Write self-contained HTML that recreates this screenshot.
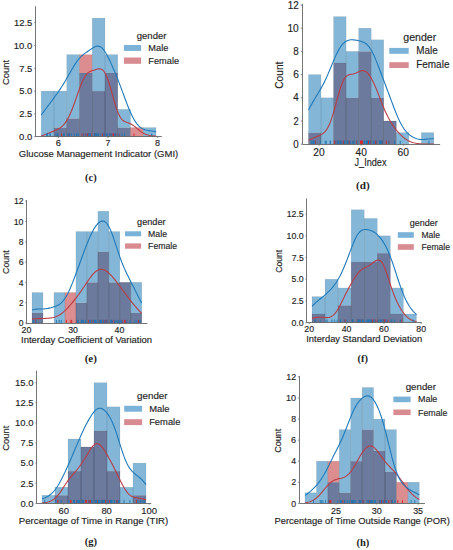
<!DOCTYPE html>
<html><head><meta charset="utf-8"><style>
html,body{margin:0;padding:0;background:#fff;}
svg{display:block;}
text{font-family:"Liberation Sans",sans-serif;fill:#1e1e1e;stroke:#1e1e1e;stroke-width:0.15px;}
</style></head><body>
<svg width="453" height="550" viewBox="0 0 453 550">
<rect width="453" height="550" fill="#fff"/>
<g><rect x="41.2" y="91.1" width="12.76" height="45.6" fill="#84b7d7"/>
<rect x="53.96" y="127.58" width="12.76" height="9.12" fill="#6c7a9d"/>
<rect x="53.96" y="91.1" width="12.76" height="36.48" fill="#84b7d7"/>
<rect x="66.72" y="118.46" width="12.76" height="18.24" fill="#6c7a9d"/>
<rect x="66.72" y="54.62" width="12.76" height="63.84" fill="#84b7d7"/>
<rect x="79.48" y="72.86" width="12.76" height="63.84" fill="#6c7a9d"/>
<rect x="79.48" y="54.62" width="12.76" height="18.24" fill="#db8d90"/>
<rect x="92.24" y="91.1" width="12.76" height="45.6" fill="#6c7a9d"/>
<rect x="92.24" y="18.14" width="12.76" height="72.96" fill="#84b7d7"/>
<rect x="105" y="72.86" width="12.76" height="63.84" fill="#6c7a9d"/>
<rect x="105" y="54.62" width="12.76" height="18.24" fill="#84b7d7"/>
<rect x="117.76" y="127.58" width="12.76" height="9.12" fill="#6c7a9d"/>
<rect x="117.76" y="109.34" width="12.76" height="18.24" fill="#84b7d7"/>
<rect x="130.52" y="127.58" width="12.76" height="9.12" fill="#db8d90"/>
<rect x="143.28" y="127.58" width="12.76" height="9.12" fill="#84b7d7"/>
<rect x="41.2" y="91.1" width="12.76" height="45.6" fill="none" stroke="#000" stroke-opacity="0.12" stroke-width="0.5"/>
<rect x="53.96" y="91.1" width="12.76" height="45.6" fill="none" stroke="#000" stroke-opacity="0.12" stroke-width="0.5"/>
<rect x="53.96" y="127.58" width="12.76" height="9.12" fill="none" stroke="#000" stroke-opacity="0.12" stroke-width="0.5"/>
<rect x="66.72" y="54.62" width="12.76" height="82.08" fill="none" stroke="#000" stroke-opacity="0.12" stroke-width="0.5"/>
<rect x="66.72" y="118.46" width="12.76" height="18.24" fill="none" stroke="#000" stroke-opacity="0.12" stroke-width="0.5"/>
<rect x="79.48" y="72.86" width="12.76" height="63.84" fill="none" stroke="#000" stroke-opacity="0.12" stroke-width="0.5"/>
<rect x="79.48" y="54.62" width="12.76" height="82.08" fill="none" stroke="#000" stroke-opacity="0.12" stroke-width="0.5"/>
<rect x="92.24" y="18.14" width="12.76" height="118.56" fill="none" stroke="#000" stroke-opacity="0.12" stroke-width="0.5"/>
<rect x="92.24" y="91.1" width="12.76" height="45.6" fill="none" stroke="#000" stroke-opacity="0.12" stroke-width="0.5"/>
<rect x="105" y="54.62" width="12.76" height="82.08" fill="none" stroke="#000" stroke-opacity="0.12" stroke-width="0.5"/>
<rect x="105" y="72.86" width="12.76" height="63.84" fill="none" stroke="#000" stroke-opacity="0.12" stroke-width="0.5"/>
<rect x="117.76" y="109.34" width="12.76" height="27.36" fill="none" stroke="#000" stroke-opacity="0.12" stroke-width="0.5"/>
<rect x="117.76" y="127.58" width="12.76" height="9.12" fill="none" stroke="#000" stroke-opacity="0.12" stroke-width="0.5"/>
<rect x="130.52" y="127.58" width="12.76" height="9.12" fill="none" stroke="#000" stroke-opacity="0.12" stroke-width="0.5"/>
<rect x="143.28" y="127.58" width="12.76" height="9.12" fill="none" stroke="#000" stroke-opacity="0.12" stroke-width="0.5"/>
<path d="M41.2,135.67 42.21,135.44 43.21,135.17 44.22,134.87 45.23,134.54 46.24,134.17 47.24,133.78 48.25,133.36 49.26,132.94 50.27,132.5 51.27,132.06 52.28,131.63 53.29,131.19 54.3,130.76 55.3,130.33 56.31,129.88 57.32,129.42 58.33,128.91 59.33,128.34 60.34,127.7 61.35,126.95 62.35,126.08 63.36,125.08 64.37,123.92 65.38,122.6 66.38,121.1 67.39,119.42 68.4,117.56 69.41,115.53 70.41,113.32 71.42,110.96 72.43,108.46 73.44,105.82 74.44,103.07 75.45,100.24 76.46,97.36 77.47,94.46 78.47,91.57 79.48,88.76 80.49,86.05 81.49,83.51 82.5,81.16 83.51,79.04 84.52,77.19 85.52,75.61 86.53,74.29 87.54,73.23 88.55,72.4 89.55,71.76 90.56,71.26 91.57,70.87 92.58,70.53 93.58,70.22 94.59,69.92 95.6,69.62 96.61,69.33 97.61,69.08 98.62,68.9 99.63,68.85 100.63,68.98 101.64,69.36 102.65,70.03 103.66,71.05 104.66,72.45 105.67,74.25 106.68,76.45 107.69,79.04 108.69,81.99 109.7,85.22 110.71,88.68 111.72,92.27 112.72,95.92 113.73,99.54 114.74,103.02 115.75,106.3 116.75,109.32 117.76,112.01 118.77,114.35 119.77,116.34 120.78,117.97 121.79,119.27 122.8,120.28 123.8,121.04 124.81,121.62 125.82,122.06 126.83,122.43 127.83,122.77 128.84,123.12 129.85,123.52 130.86,123.99 131.86,124.55 132.87,125.18 133.88,125.89 134.89,126.67 135.89,127.49 136.9,128.34 137.91,129.19 138.91,130.02 139.92,130.82 140.93,131.58 141.94,132.27 142.94,132.9 143.95,133.46 144.96,133.95 145.97,134.37 146.97,134.73 147.98,135.03 148.99,135.27 150,135.48 151,135.64 152.01,135.78 153.02,135.89 154.03,135.97 155.03,136.05 156.04,136.11" fill="none" stroke="#b93c46" stroke-width="1.1" stroke-linejoin="round"/>
<path d="M41.2,115.11 42.21,113.74 43.21,112.38 44.22,111.01 45.23,109.65 46.24,108.29 47.24,106.94 48.25,105.58 49.26,104.22 50.27,102.87 51.27,101.51 52.28,100.15 53.29,98.79 54.3,97.42 55.3,96.04 56.31,94.64 57.32,93.23 58.33,91.8 59.33,90.34 60.34,88.84 61.35,87.31 62.35,85.74 63.36,84.12 64.37,82.47 65.38,80.77 66.38,79.05 67.39,77.29 68.4,75.52 69.41,73.74 70.41,71.96 71.42,70.2 72.43,68.47 73.44,66.79 74.44,65.16 75.45,63.6 76.46,62.13 77.47,60.74 78.47,59.45 79.48,58.26 80.49,57.17 81.49,56.17 82.5,55.26 83.51,54.42 84.52,53.64 85.52,52.9 86.53,52.2 87.54,51.5 88.55,50.82 89.55,50.13 90.56,49.44 91.57,48.76 92.58,48.11 93.58,47.5 94.59,46.97 95.6,46.54 96.61,46.24 97.61,46.11 98.62,46.17 99.63,46.44 100.63,46.93 101.64,47.66 102.65,48.62 103.66,49.8 104.66,51.19 105.67,52.77 106.68,54.51 107.69,56.39 108.69,58.38 109.7,60.48 110.71,62.64 111.72,64.88 112.72,67.16 113.73,69.5 114.74,71.88 115.75,74.31 116.75,76.78 117.76,79.3 118.77,81.87 119.77,84.49 120.78,87.15 121.79,89.85 122.8,92.57 123.8,95.29 124.81,98.02 125.82,100.72 126.83,103.38 127.83,105.97 128.84,108.49 129.85,110.9 130.86,113.19 131.86,115.34 132.87,117.35 133.88,119.21 134.89,120.9 135.89,122.43 136.9,123.79 137.91,125 138.91,126.05 139.92,126.95 140.93,127.73 141.94,128.38 142.94,128.92 143.95,129.36 144.96,129.73 145.97,130.02 146.97,130.27 147.98,130.47 148.99,130.64 150,130.79 151,130.93 152.01,131.07 153.02,131.21 154.03,131.37 155.03,131.53 156.04,131.72" fill="none" stroke="#2079b9" stroke-width="1.1" stroke-linejoin="round"/>
<path d="M61.55,136.7v-3.26M69.06,136.7v-3.26M68.39,136.7v-3.26M85.99,136.7v-3.26M88.07,136.7v-3.26M91.07,136.7v-3.26M90.31,136.7v-3.26M83.72,136.7v-3.26M89.71,136.7v-3.26M81.97,136.7v-3.26M88.63,136.7v-3.26M87.36,136.7v-3.26M95.47,136.7v-3.26M104.08,136.7v-3.26M98.33,136.7v-3.26M94.61,136.7v-3.26M102.34,136.7v-3.26M109.83,136.7v-3.26M113.44,136.7v-3.26M113.04,136.7v-3.26M107,136.7v-3.26M115.87,136.7v-3.26M114.57,136.7v-3.26M111.62,136.7v-3.26M119.01,136.7v-3.26M133.95,136.7v-3.26" stroke="#d62728" stroke-width="0.9" fill="none"/>
<path d="M49.97,136.7v-3.26M47.22,136.7v-3.26M50.41,136.7v-3.26M47.65,136.7v-3.26M46.52,136.7v-3.26M57.49,136.7v-3.26M63.5,136.7v-3.26M56.1,136.7v-3.26M58.02,136.7v-3.26M64.4,136.7v-3.26M67.53,136.7v-3.26M74.37,136.7v-3.26M77.05,136.7v-3.26M68.94,136.7v-3.26M71.43,136.7v-3.26M69.51,136.7v-3.26M69.38,136.7v-3.26M76.5,136.7v-3.26M78.81,136.7v-3.26M88.42,136.7v-3.26M89.91,136.7v-3.26M83.6,136.7v-3.26M86.19,136.7v-3.26M89.06,136.7v-3.26M90.47,136.7v-3.26M89.51,136.7v-3.26M103.76,136.7v-3.26M98.35,136.7v-3.26M100.37,136.7v-3.26M95.43,136.7v-3.26M96.58,136.7v-3.26M96.02,136.7v-3.26M98.07,136.7v-3.26M103.89,136.7v-3.26M98.19,136.7v-3.26M94.16,136.7v-3.26M103.73,136.7v-3.26M95.9,136.7v-3.26M95.38,136.7v-3.26M115.75,136.7v-3.26M110.12,136.7v-3.26M111.62,136.7v-3.26M114.75,136.7v-3.26M106.42,136.7v-3.26M109.62,136.7v-3.26M114.88,136.7v-3.26M106.5,136.7v-3.26M107.73,136.7v-3.26M122,136.7v-3.26M118.59,136.7v-3.26M124.56,136.7v-3.26M151.72,136.7v-3.26" stroke="#1f77b4" stroke-width="0.9" fill="none"/>
<path d="M35.5,6.28V136.5H161.78" fill="none" stroke="#666666" stroke-width="0.9"/>
<path d="M34.2,136.7H35.5" stroke="#666666" stroke-width="0.8"/>
<text x="19.11" y="140.04" font-size="9.6" textLength="13.17" lengthAdjust="spacingAndGlyphs">0.0</text>
<path d="M34.2,113.9H35.5" stroke="#666666" stroke-width="0.8"/>
<text x="19.28" y="117.24" font-size="9.6" textLength="13" lengthAdjust="spacingAndGlyphs">2.5</text>
<path d="M34.2,91.1H35.5" stroke="#666666" stroke-width="0.8"/>
<text x="19.2" y="94.44" font-size="9.6" textLength="13.08" lengthAdjust="spacingAndGlyphs">5.0</text>
<path d="M34.2,68.3H35.5" stroke="#666666" stroke-width="0.8"/>
<text x="19.32" y="71.64" font-size="9.6" textLength="12.95" lengthAdjust="spacingAndGlyphs">7.5</text>
<path d="M34.2,45.5H35.5" stroke="#666666" stroke-width="0.8"/>
<text x="13.76" y="48.85" font-size="9.6" textLength="18.53" lengthAdjust="spacingAndGlyphs">10.0</text>
<path d="M34.2,22.7H35.5" stroke="#666666" stroke-width="0.8"/>
<text x="13.94" y="26.05" font-size="9.6" textLength="18.35" lengthAdjust="spacingAndGlyphs">12.5</text>
<path d="M58.3,136.7V138" stroke="#666666" stroke-width="0.8"/>
<text x="55.72" y="146.34" font-size="9.6" textLength="5.19" lengthAdjust="spacingAndGlyphs">6</text>
<path d="M108,136.7V138" stroke="#666666" stroke-width="0.8"/>
<text x="105.54" y="146.34" font-size="9.6" textLength="4.88" lengthAdjust="spacingAndGlyphs">7</text>
<path d="M157.6,136.7V138" stroke="#666666" stroke-width="0.8"/>
<text x="155.08" y="146.34" font-size="9.6" textLength="5.03" lengthAdjust="spacingAndGlyphs">8</text>
<text x="18.82" y="156.9" font-size="9.6" textLength="159.49" lengthAdjust="spacingAndGlyphs">Glucose Management Indicator (GMI)</text>
<text transform="translate(9.15,0) rotate(-90)" x="-84.97" y="0" font-size="9.6" textLength="25.05" lengthAdjust="spacingAndGlyphs">Count</text>
<text x="136.72" y="38.6" font-size="9.6" textLength="29.76" lengthAdjust="spacingAndGlyphs">gender</text>
<rect x="123.9" y="45" width="17.2" height="5.9" fill="#7ab2d8"/>
<rect x="123.9" y="57.5" width="17.2" height="6.3" fill="#d88b91"/>
<text x="148.36" y="51.1" font-size="9.6" textLength="19.98" lengthAdjust="spacingAndGlyphs">Male</text>
<text x="148.36" y="63.7" font-size="9.6" textLength="30.75" lengthAdjust="spacingAndGlyphs">Female</text>
<text x="85.03" y="181.05" font-size="10.4" textLength="11.64" lengthAdjust="spacingAndGlyphs" style="font-family:'Liberation Serif',serif;font-weight:bold;stroke:none;">(c)</text></g>
<g><rect x="308.5" y="132.6" width="12.54" height="11.6" fill="#6c7a9d"/>
<rect x="308.5" y="74.6" width="12.54" height="58" fill="#84b7d7"/>
<rect x="321.04" y="97.8" width="12.54" height="46.4" fill="#84b7d7"/>
<rect x="333.58" y="63" width="12.54" height="81.2" fill="#6c7a9d"/>
<rect x="333.58" y="16.6" width="12.54" height="46.4" fill="#84b7d7"/>
<rect x="346.12" y="97.8" width="12.54" height="46.4" fill="#6c7a9d"/>
<rect x="346.12" y="51.4" width="12.54" height="46.4" fill="#84b7d7"/>
<rect x="358.66" y="51.4" width="12.54" height="92.8" fill="#6c7a9d"/>
<rect x="358.66" y="28.2" width="12.54" height="23.2" fill="#84b7d7"/>
<rect x="371.2" y="97.8" width="12.54" height="46.4" fill="#6c7a9d"/>
<rect x="371.2" y="39.8" width="12.54" height="58" fill="#84b7d7"/>
<rect x="383.74" y="121" width="12.54" height="23.2" fill="#6c7a9d"/>
<rect x="396.28" y="132.6" width="12.54" height="11.6" fill="#84b7d7"/>
<rect x="421.36" y="132.6" width="12.54" height="11.6" fill="#84b7d7"/>
<rect x="308.5" y="74.6" width="12.54" height="69.6" fill="none" stroke="#000" stroke-opacity="0.12" stroke-width="0.5"/>
<rect x="308.5" y="132.6" width="12.54" height="11.6" fill="none" stroke="#000" stroke-opacity="0.12" stroke-width="0.5"/>
<rect x="321.04" y="97.8" width="12.54" height="46.4" fill="none" stroke="#000" stroke-opacity="0.12" stroke-width="0.5"/>
<rect x="333.58" y="16.6" width="12.54" height="127.6" fill="none" stroke="#000" stroke-opacity="0.12" stroke-width="0.5"/>
<rect x="333.58" y="63" width="12.54" height="81.2" fill="none" stroke="#000" stroke-opacity="0.12" stroke-width="0.5"/>
<rect x="346.12" y="51.4" width="12.54" height="92.8" fill="none" stroke="#000" stroke-opacity="0.12" stroke-width="0.5"/>
<rect x="346.12" y="97.8" width="12.54" height="46.4" fill="none" stroke="#000" stroke-opacity="0.12" stroke-width="0.5"/>
<rect x="358.66" y="28.2" width="12.54" height="116" fill="none" stroke="#000" stroke-opacity="0.12" stroke-width="0.5"/>
<rect x="358.66" y="51.4" width="12.54" height="92.8" fill="none" stroke="#000" stroke-opacity="0.12" stroke-width="0.5"/>
<rect x="371.2" y="39.8" width="12.54" height="104.4" fill="none" stroke="#000" stroke-opacity="0.12" stroke-width="0.5"/>
<rect x="371.2" y="97.8" width="12.54" height="46.4" fill="none" stroke="#000" stroke-opacity="0.12" stroke-width="0.5"/>
<rect x="383.74" y="121" width="12.54" height="23.2" fill="none" stroke="#000" stroke-opacity="0.12" stroke-width="0.5"/>
<rect x="383.74" y="121" width="12.54" height="23.2" fill="none" stroke="#000" stroke-opacity="0.12" stroke-width="0.5"/>
<rect x="396.28" y="132.6" width="12.54" height="11.6" fill="none" stroke="#000" stroke-opacity="0.12" stroke-width="0.5"/>
<rect x="421.36" y="132.6" width="12.54" height="11.6" fill="none" stroke="#000" stroke-opacity="0.12" stroke-width="0.5"/>
<path d="M308.5,140.31 309.5,139.85 310.51,139.39 311.51,138.93 312.51,138.47 313.52,138.02 314.52,137.58 315.52,137.15 316.53,136.72 317.53,136.3 318.53,135.87 319.54,135.42 320.54,134.93 321.54,134.38 322.54,133.73 323.55,132.97 324.55,132.04 325.55,130.93 326.56,129.59 327.56,128 328.56,126.12 329.57,123.94 330.57,121.45 331.57,118.66 332.58,115.59 333.58,112.26 334.58,108.74 335.59,105.08 336.59,101.36 337.59,97.65 338.6,94.05 339.6,90.63 340.6,87.47 341.61,84.63 342.61,82.14 343.61,80.05 344.62,78.35 345.62,77.02 346.62,76.04 347.62,75.34 348.63,74.88 349.63,74.59 350.63,74.39 351.64,74.24 352.64,74.07 353.64,73.86 354.65,73.58 355.65,73.22 356.65,72.79 357.66,72.33 358.66,71.85 359.66,71.4 360.67,71.02 361.67,70.76 362.67,70.65 363.68,70.72 364.68,70.99 365.68,71.49 366.69,72.21 367.69,73.16 368.69,74.34 369.7,75.72 370.7,77.3 371.7,79.07 372.7,81 373.71,83.09 374.71,85.31 375.71,87.65 376.72,90.08 377.72,92.59 378.72,95.14 379.73,97.73 380.73,100.31 381.73,102.87 382.74,105.38 383.74,107.81 384.74,110.16 385.75,112.41 386.75,114.54 387.75,116.56 388.76,118.47 389.76,120.27 390.76,121.97 391.77,123.57 392.77,125.1 393.77,126.55 394.78,127.93 395.78,129.25 396.78,130.51 397.78,131.71 398.79,132.85 399.79,133.94 400.79,134.97 401.8,135.93 402.8,136.84 403.8,137.68 404.81,138.45 405.81,139.16 406.81,139.81 407.82,140.4 408.82,140.93 409.82,141.41 410.83,141.83 411.83,142.2 412.83,142.53 413.84,142.82 414.84,143.06 415.84,143.27 416.85,143.45 417.85,143.59 418.85,143.72 419.86,143.82 420.86,143.89 421.86,143.96 422.86,144.01 423.87,144.04 424.87,144.07 425.87,144.09 426.88,144.1 427.88,144.11 428.88,144.12 429.89,144.12 430.89,144.12 431.89,144.12 432.9,144.12 433.9,144.13" fill="none" stroke="#b93c46" stroke-width="1.1" stroke-linejoin="round"/>
<path d="M308.5,109.98 309.5,108.07 310.51,106.21 311.51,104.39 312.51,102.62 313.52,100.88 314.52,99.18 315.52,97.51 316.53,95.85 317.53,94.2 318.53,92.53 319.54,90.85 320.54,89.13 321.54,87.36 322.54,85.53 323.55,83.62 324.55,81.63 325.55,79.55 326.56,77.39 327.56,75.14 328.56,72.82 329.57,70.44 330.57,68.02 331.57,65.57 332.58,63.14 333.58,60.73 334.58,58.38 335.59,56.12 336.59,53.97 337.59,51.94 338.6,50.07 339.6,48.35 340.6,46.8 341.61,45.42 342.61,44.21 343.61,43.16 344.62,42.28 345.62,41.55 346.62,40.96 347.62,40.51 348.63,40.17 349.63,39.94 350.63,39.81 351.64,39.76 352.64,39.78 353.64,39.86 354.65,39.98 355.65,40.13 356.65,40.32 357.66,40.52 358.66,40.74 359.66,40.98 360.67,41.24 361.67,41.54 362.67,41.9 363.68,42.33 364.68,42.85 365.68,43.5 366.69,44.29 367.69,45.25 368.69,46.39 369.7,47.72 370.7,49.26 371.7,50.99 372.7,52.91 373.71,55 374.71,57.25 375.71,59.62 376.72,62.1 377.72,64.65 378.72,67.25 379.73,69.89 380.73,72.54 381.73,75.19 382.74,77.84 383.74,80.49 384.74,83.14 385.75,85.79 386.75,88.44 387.75,91.11 388.76,93.78 389.76,96.47 390.76,99.17 391.77,101.86 392.77,104.55 393.77,107.2 394.78,109.8 395.78,112.35 396.78,114.8 397.78,117.16 398.79,119.39 399.79,121.5 400.79,123.47 401.8,125.29 402.8,126.97 403.8,128.5 404.81,129.9 405.81,131.16 406.81,132.3 407.82,133.32 408.82,134.24 409.82,135.07 410.83,135.81 411.83,136.46 412.83,137.05 413.84,137.57 414.84,138.02 415.84,138.4 416.85,138.73 417.85,138.99 418.85,139.2 419.86,139.34 420.86,139.44 421.86,139.48 422.86,139.48 423.87,139.44 424.87,139.36 425.87,139.27 426.88,139.15 427.88,139.04 428.88,138.93 429.89,138.83 430.89,138.75 431.89,138.7 432.9,138.68 433.9,138.71" fill="none" stroke="#2079b9" stroke-width="1.1" stroke-linejoin="round"/>
<path d="M315.26,144.2v-3.51M337.35,144.2v-3.51M339,144.2v-3.51M343.74,144.2v-3.51M334.26,144.2v-3.51M335.58,144.2v-3.51M341.78,144.2v-3.51M343.53,144.2v-3.51M348.29,144.2v-3.51M353.24,144.2v-3.51M356.81,144.2v-3.51M349.11,144.2v-3.51M361.38,144.2v-3.51M360.51,144.2v-3.51M361.77,144.2v-3.51M370.33,144.2v-3.51M368.45,144.2v-3.51M361.23,144.2v-3.51M368.5,144.2v-3.51M362.38,144.2v-3.51M376.7,144.2v-3.51M382.44,144.2v-3.51M381.05,144.2v-3.51M375.62,144.2v-3.51M386.35,144.2v-3.51M388.57,144.2v-3.51" stroke="#d62728" stroke-width="0.9" fill="none"/>
<path d="M314.71,144.2v-3.51M311.7,144.2v-3.51M312.01,144.2v-3.51M313.6,144.2v-3.51M313.39,144.2v-3.51M320.37,144.2v-3.51M326.27,144.2v-3.51M330.38,144.2v-3.51M330.25,144.2v-3.51M325.17,144.2v-3.51M338.12,144.2v-3.51M338.18,144.2v-3.51M335.85,144.2v-3.51M345.18,144.2v-3.51M344.47,144.2v-3.51M340.53,144.2v-3.51M337.75,144.2v-3.51M344.23,144.2v-3.51M341.82,144.2v-3.51M338.62,144.2v-3.51M339.93,144.2v-3.51M352.66,144.2v-3.51M357.22,144.2v-3.51M353.2,144.2v-3.51M354.29,144.2v-3.51M347.34,144.2v-3.51M350.44,144.2v-3.51M347.38,144.2v-3.51M348.78,144.2v-3.51M369.74,144.2v-3.51M369.87,144.2v-3.51M367.35,144.2v-3.51M367.56,144.2v-3.51M364.5,144.2v-3.51M369.8,144.2v-3.51M363.87,144.2v-3.51M367,144.2v-3.51M366.62,144.2v-3.51M366.04,144.2v-3.51M374.33,144.2v-3.51M379.53,144.2v-3.51M381.74,144.2v-3.51M380.82,144.2v-3.51M376.7,144.2v-3.51M382.19,144.2v-3.51M380.65,144.2v-3.51M380.02,144.2v-3.51M373.24,144.2v-3.51M394.71,144.2v-3.51M388.74,144.2v-3.51M400.24,144.2v-3.51M428.95,144.2v-3.51" stroke="#1f77b4" stroke-width="0.9" fill="none"/>
<path d="M302.5,3.84V144.5H440.17" fill="none" stroke="#666666" stroke-width="0.9"/>
<path d="M300.79,144.2H302.2" stroke="#666666" stroke-width="0.8"/>
<text x="293.25" y="147.81" font-size="10.41" textLength="5.45" lengthAdjust="spacingAndGlyphs">0</text>
<path d="M300.79,121H302.2" stroke="#666666" stroke-width="0.8"/>
<text x="293.59" y="124.61" font-size="10.41" textLength="5.18" lengthAdjust="spacingAndGlyphs">2</text>
<path d="M300.79,97.8H302.2" stroke="#666666" stroke-width="0.8"/>
<text x="293.17" y="101.41" font-size="10.41" textLength="5.43" lengthAdjust="spacingAndGlyphs">4</text>
<path d="M300.79,74.6H302.2" stroke="#666666" stroke-width="0.8"/>
<text x="293.14" y="78.21" font-size="10.41" textLength="5.63" lengthAdjust="spacingAndGlyphs">6</text>
<path d="M300.79,51.4H302.2" stroke="#666666" stroke-width="0.8"/>
<text x="293.25" y="55.01" font-size="10.41" textLength="5.45" lengthAdjust="spacingAndGlyphs">8</text>
<path d="M300.79,28.2H302.2" stroke="#666666" stroke-width="0.8"/>
<text x="287.45" y="31.81" font-size="10.41" textLength="11.28" lengthAdjust="spacingAndGlyphs">10</text>
<path d="M300.79,5H302.2" stroke="#666666" stroke-width="0.8"/>
<text x="287.79" y="8.61" font-size="10.41" textLength="11.03" lengthAdjust="spacingAndGlyphs">12</text>
<path d="M319,144.2V145.61" stroke="#666666" stroke-width="0.8"/>
<text x="313.32" y="155.81" font-size="10.41" textLength="11.35" lengthAdjust="spacingAndGlyphs">20</text>
<path d="M361.2,144.2V145.61" stroke="#666666" stroke-width="0.8"/>
<text x="355.54" y="155.81" font-size="10.41" textLength="11.33" lengthAdjust="spacingAndGlyphs">40</text>
<path d="M403.3,144.2V145.61" stroke="#666666" stroke-width="0.8"/>
<text x="397.57" y="155.81" font-size="10.41" textLength="11.4" lengthAdjust="spacingAndGlyphs">60</text>
<text x="354.56" y="166.3" font-size="10.41" textLength="31.9" lengthAdjust="spacingAndGlyphs">J_Index</text>
<text transform="translate(282.75,0) rotate(-90)" x="-88.81" y="0" font-size="10.41" textLength="27.2" lengthAdjust="spacingAndGlyphs">Count</text>
<text x="403.28" y="40.7" font-size="10.41" textLength="33.02" lengthAdjust="spacingAndGlyphs">gender</text>
<rect x="389.3" y="47.9" width="19.4" height="5.9" fill="#7ab2d8"/>
<rect x="389.3" y="62.2" width="19.4" height="5.8" fill="#d88b91"/>
<text x="416.21" y="54.3" font-size="10.41" textLength="21.46" lengthAdjust="spacingAndGlyphs">Male</text>
<text x="416.2" y="68.4" font-size="10.41" textLength="33.24" lengthAdjust="spacingAndGlyphs">Female</text>
<text x="356.1" y="189.15" font-size="10.4" textLength="13.68" lengthAdjust="spacingAndGlyphs" style="font-family:'Liberation Serif',serif;font-weight:bold;stroke:none;">(d)</text></g>
<g><rect x="32" y="312.84" width="10.98" height="10.16" fill="#6c7a9d"/>
<rect x="32" y="292.52" width="10.98" height="20.32" fill="#84b7d7"/>
<rect x="53.96" y="292.52" width="10.98" height="30.48" fill="#84b7d7"/>
<rect x="64.94" y="292.52" width="10.98" height="30.48" fill="#db8d90"/>
<rect x="75.92" y="302.68" width="10.98" height="20.32" fill="#6c7a9d"/>
<rect x="75.92" y="231.56" width="10.98" height="71.12" fill="#84b7d7"/>
<rect x="86.9" y="282.36" width="10.98" height="40.64" fill="#6c7a9d"/>
<rect x="86.9" y="231.56" width="10.98" height="50.8" fill="#84b7d7"/>
<rect x="97.88" y="251.88" width="10.98" height="71.12" fill="#6c7a9d"/>
<rect x="97.88" y="211.24" width="10.98" height="40.64" fill="#84b7d7"/>
<rect x="108.86" y="282.36" width="10.98" height="40.64" fill="#6c7a9d"/>
<rect x="108.86" y="231.56" width="10.98" height="50.8" fill="#84b7d7"/>
<rect x="119.84" y="282.36" width="10.98" height="40.64" fill="#6c7a9d"/>
<rect x="130.82" y="312.84" width="10.98" height="10.16" fill="#6c7a9d"/>
<rect x="130.82" y="282.36" width="10.98" height="30.48" fill="#84b7d7"/>
<rect x="32" y="292.52" width="10.98" height="30.48" fill="none" stroke="#000" stroke-opacity="0.12" stroke-width="0.5"/>
<rect x="32" y="312.84" width="10.98" height="10.16" fill="none" stroke="#000" stroke-opacity="0.12" stroke-width="0.5"/>
<rect x="53.96" y="292.52" width="10.98" height="30.48" fill="none" stroke="#000" stroke-opacity="0.12" stroke-width="0.5"/>
<rect x="64.94" y="292.52" width="10.98" height="30.48" fill="none" stroke="#000" stroke-opacity="0.12" stroke-width="0.5"/>
<rect x="75.92" y="231.56" width="10.98" height="91.44" fill="none" stroke="#000" stroke-opacity="0.12" stroke-width="0.5"/>
<rect x="75.92" y="302.68" width="10.98" height="20.32" fill="none" stroke="#000" stroke-opacity="0.12" stroke-width="0.5"/>
<rect x="86.9" y="231.56" width="10.98" height="91.44" fill="none" stroke="#000" stroke-opacity="0.12" stroke-width="0.5"/>
<rect x="86.9" y="282.36" width="10.98" height="40.64" fill="none" stroke="#000" stroke-opacity="0.12" stroke-width="0.5"/>
<rect x="97.88" y="211.24" width="10.98" height="111.76" fill="none" stroke="#000" stroke-opacity="0.12" stroke-width="0.5"/>
<rect x="97.88" y="251.88" width="10.98" height="71.12" fill="none" stroke="#000" stroke-opacity="0.12" stroke-width="0.5"/>
<rect x="108.86" y="231.56" width="10.98" height="91.44" fill="none" stroke="#000" stroke-opacity="0.12" stroke-width="0.5"/>
<rect x="108.86" y="282.36" width="10.98" height="40.64" fill="none" stroke="#000" stroke-opacity="0.12" stroke-width="0.5"/>
<rect x="119.84" y="282.36" width="10.98" height="40.64" fill="none" stroke="#000" stroke-opacity="0.12" stroke-width="0.5"/>
<rect x="119.84" y="282.36" width="10.98" height="40.64" fill="none" stroke="#000" stroke-opacity="0.12" stroke-width="0.5"/>
<rect x="130.82" y="282.36" width="10.98" height="40.64" fill="none" stroke="#000" stroke-opacity="0.12" stroke-width="0.5"/>
<rect x="130.82" y="312.84" width="10.98" height="10.16" fill="none" stroke="#000" stroke-opacity="0.12" stroke-width="0.5"/>
<path d="M32,319.05 33.01,318.94 34.01,318.85 35.02,318.78 36.03,318.72 37.04,318.68 38.04,318.64 39.05,318.61 40.06,318.58 41.07,318.56 42.07,318.53 43.08,318.5 44.09,318.47 45.1,318.43 46.1,318.38 47.11,318.32 48.12,318.25 49.12,318.15 50.13,318.03 51.14,317.88 52.15,317.71 53.15,317.49 54.16,317.23 55.17,316.92 56.18,316.55 57.18,316.13 58.19,315.64 59.2,315.08 60.21,314.46 61.21,313.77 62.22,313.01 63.23,312.19 64.23,311.31 65.24,310.37 66.25,309.38 67.26,308.34 68.26,307.26 69.27,306.15 70.28,305.01 71.29,303.84 72.29,302.64 73.3,301.43 74.31,300.18 75.32,298.92 76.32,297.62 77.33,296.3 78.34,294.95 79.34,293.57 80.35,292.15 81.36,290.7 82.37,289.23 83.37,287.73 84.38,286.22 85.39,284.69 86.4,283.17 87.4,281.67 88.41,280.19 89.42,278.75 90.43,277.37 91.43,276.06 92.44,274.83 93.45,273.7 94.46,272.68 95.46,271.77 96.47,271 97.48,270.37 98.48,269.88 99.49,269.54 100.5,269.35 101.51,269.32 102.51,269.43 103.52,269.68 104.53,270.08 105.54,270.6 106.54,271.25 107.55,272.01 108.56,272.86 109.57,273.8 110.57,274.82 111.58,275.9 112.59,277.03 113.59,278.22 114.6,279.44 115.61,280.69 116.62,281.97 117.62,283.27 118.63,284.6 119.64,285.93 120.65,287.29 121.65,288.65 122.66,290.02 123.67,291.39 124.68,292.77 125.68,294.14 126.69,295.51 127.7,296.86 128.7,298.2 129.71,299.52 130.72,300.82 131.73,302.1 132.73,303.35 133.74,304.57 134.75,305.77 135.76,306.94 136.76,308.08 137.77,309.19 138.78,310.27 139.79,311.31 140.79,312.32 141.8,313.28" fill="none" stroke="#b93c46" stroke-width="1.1" stroke-linejoin="round"/>
<path d="M32,310.08 33.01,309.75 34.01,309.5 35.02,309.31 36.03,309.17 37.04,309.09 38.04,309.04 39.05,309.01 40.06,309 41.07,308.98 42.07,308.96 43.08,308.93 44.09,308.87 45.1,308.78 46.1,308.66 47.11,308.51 48.12,308.34 49.12,308.13 50.13,307.91 51.14,307.66 52.15,307.38 53.15,307.09 54.16,306.76 55.17,306.41 56.18,306.01 57.18,305.55 58.19,305.02 59.2,304.41 60.21,303.69 61.21,302.85 62.22,301.88 63.23,300.75 64.23,299.45 65.24,297.99 66.25,296.36 67.26,294.55 68.26,292.59 69.27,290.47 70.28,288.21 71.29,285.84 72.29,283.36 73.3,280.8 74.31,278.17 75.32,275.5 76.32,272.79 77.33,270.05 78.34,267.29 79.34,264.53 80.35,261.77 81.36,259 82.37,256.25 83.37,253.51 84.38,250.8 85.39,248.13 86.4,245.51 87.4,242.95 88.41,240.47 89.42,238.09 90.43,235.82 91.43,233.68 92.44,231.67 93.45,229.81 94.46,228.11 95.46,226.57 96.47,225.2 97.48,224.01 98.48,222.99 99.49,222.17 100.5,221.55 101.51,221.15 102.51,220.99 103.52,221.08 104.53,221.45 105.54,222.12 106.54,223.09 107.55,224.38 108.56,225.99 109.57,227.91 110.57,230.11 111.58,232.58 112.59,235.28 113.59,238.15 114.6,241.15 115.61,244.24 116.62,247.35 117.62,250.44 118.63,253.47 119.64,256.4 120.65,259.22 121.65,261.9 122.66,264.43 123.67,266.84 124.68,269.12 125.68,271.3 126.69,273.4 127.7,275.44 128.7,277.44 129.71,279.43 130.72,281.42 131.73,283.41 132.73,285.42 133.74,287.45 134.75,289.49 135.76,291.54 136.76,293.58 137.77,295.6 138.78,297.6 139.79,299.55 140.79,301.44 141.8,303.27" fill="none" stroke="#2079b9" stroke-width="1.1" stroke-linejoin="round"/>
<path d="M35.58,323v-3.07M66.45,323v-3.07M71.64,323v-3.07M70.88,323v-3.07M82.57,323v-3.07M76.78,323v-3.07M88.44,323v-3.07M90.39,323v-3.07M93.77,323v-3.07M91,323v-3.07M105.64,323v-3.07M99.41,323v-3.07M100.08,323v-3.07M106.78,323v-3.07M106.57,323v-3.07M104.78,323v-3.07M101.97,323v-3.07M118.38,323v-3.07M114.31,323v-3.07M111.68,323v-3.07M112.86,323v-3.07M126.38,323v-3.07M124.86,323v-3.07M124.82,323v-3.07M122,323v-3.07M138.52,323v-3.07" stroke="#d62728" stroke-width="0.9" fill="none"/>
<path d="M33.13,323v-3.07M33.78,323v-3.07M36.05,323v-3.07M61.24,323v-3.07M59.21,323v-3.07M56.43,323v-3.07M77.06,323v-3.07M77.87,323v-3.07M81.83,323v-3.07M82.36,323v-3.07M85.55,323v-3.07M77.68,323v-3.07M85.29,323v-3.07M81.36,323v-3.07M83.31,323v-3.07M90.6,323v-3.07M89.35,323v-3.07M95.17,323v-3.07M96.17,323v-3.07M94.56,323v-3.07M94.88,323v-3.07M95.86,323v-3.07M90.48,323v-3.07M92.75,323v-3.07M103.46,323v-3.07M103.58,323v-3.07M100.09,323v-3.07M100.38,323v-3.07M107,323v-3.07M101.44,323v-3.07M103.8,323v-3.07M101.26,323v-3.07M100.98,323v-3.07M98.87,323v-3.07M105.78,323v-3.07M115.94,323v-3.07M118.3,323v-3.07M117.02,323v-3.07M112.32,323v-3.07M114.67,323v-3.07M111.01,323v-3.07M119.27,323v-3.07M110.81,323v-3.07M111.13,323v-3.07M120.87,323v-3.07M130.02,323v-3.07M126.6,323v-3.07M121.58,323v-3.07M136.85,323v-3.07M140.15,323v-3.07M139.88,323v-3.07M134.92,323v-3.07" stroke="#1f77b4" stroke-width="0.9" fill="none"/>
<path d="M26.5,200.06V323.5H147.29" fill="none" stroke="#666666" stroke-width="0.9"/>
<path d="M25.28,323H26.5" stroke="#666666" stroke-width="0.8"/>
<text x="18.74" y="326.16" font-size="9.03" textLength="4.72" lengthAdjust="spacingAndGlyphs">0</text>
<path d="M25.28,302.68H26.5" stroke="#666666" stroke-width="0.8"/>
<text x="19.04" y="305.84" font-size="9.03" textLength="4.49" lengthAdjust="spacingAndGlyphs">2</text>
<path d="M25.28,282.36H26.5" stroke="#666666" stroke-width="0.8"/>
<text x="18.67" y="285.52" font-size="9.03" textLength="4.71" lengthAdjust="spacingAndGlyphs">4</text>
<path d="M25.28,262.04H26.5" stroke="#666666" stroke-width="0.8"/>
<text x="18.64" y="265.2" font-size="9.03" textLength="4.88" lengthAdjust="spacingAndGlyphs">6</text>
<path d="M25.28,241.72H26.5" stroke="#666666" stroke-width="0.8"/>
<text x="18.74" y="244.88" font-size="9.03" textLength="4.73" lengthAdjust="spacingAndGlyphs">8</text>
<path d="M25.28,221.4H26.5" stroke="#666666" stroke-width="0.8"/>
<text x="13.71" y="224.56" font-size="9.03" textLength="9.78" lengthAdjust="spacingAndGlyphs">10</text>
<path d="M25.28,201.08H26.5" stroke="#666666" stroke-width="0.8"/>
<text x="14" y="204.24" font-size="9.03" textLength="9.56" lengthAdjust="spacingAndGlyphs">12</text>
<path d="M26.5,323V324.22" stroke="#666666" stroke-width="0.8"/>
<text x="21.57" y="333.16" font-size="9.03" textLength="9.85" lengthAdjust="spacingAndGlyphs">20</text>
<path d="M73,323V324.22" stroke="#666666" stroke-width="0.8"/>
<text x="68.16" y="333.16" font-size="9.03" textLength="9.75" lengthAdjust="spacingAndGlyphs">30</text>
<path d="M119.5,323V324.22" stroke="#666666" stroke-width="0.8"/>
<text x="114.6" y="333.16" font-size="9.03" textLength="9.82" lengthAdjust="spacingAndGlyphs">40</text>
<text x="21.05" y="342.5" font-size="9.03" textLength="130.97" lengthAdjust="spacingAndGlyphs">Interday Coefficient of Variation</text>
<text transform="translate(8.8,0) rotate(-90)" x="-273.94" y="0" font-size="9.03" textLength="23.52" lengthAdjust="spacingAndGlyphs">Count</text>
<text x="137.03" y="225.3" font-size="9.03" textLength="28.64" lengthAdjust="spacingAndGlyphs">gender</text>
<rect x="125" y="231.3" width="16.1" height="5" fill="#7ab2d8"/>
<rect x="125" y="243.4" width="16.1" height="5.3" fill="#d88b91"/>
<text x="148.1" y="236.6" font-size="9.03" textLength="18.91" lengthAdjust="spacingAndGlyphs">Male</text>
<text x="148.1" y="248.9" font-size="9.03" textLength="28.98" lengthAdjust="spacingAndGlyphs">Female</text>
<text x="84.7" y="362.45" font-size="10.4" textLength="12.3" lengthAdjust="spacingAndGlyphs" style="font-family:'Liberation Serif',serif;font-weight:bold;stroke:none;">(e)</text></g>
<g><rect x="312" y="314.01" width="13.06" height="8.69" fill="#6c7a9d"/>
<rect x="312" y="296.63" width="13.06" height="17.38" fill="#84b7d7"/>
<rect x="325.06" y="279.25" width="13.06" height="43.45" fill="#84b7d7"/>
<rect x="338.12" y="305.32" width="13.06" height="17.38" fill="#6c7a9d"/>
<rect x="338.12" y="287.94" width="13.06" height="17.38" fill="#84b7d7"/>
<rect x="351.18" y="261.87" width="13.06" height="60.83" fill="#6c7a9d"/>
<rect x="351.18" y="209.73" width="13.06" height="52.14" fill="#84b7d7"/>
<rect x="364.24" y="261.87" width="13.06" height="60.83" fill="#6c7a9d"/>
<rect x="364.24" y="218.42" width="13.06" height="43.45" fill="#84b7d7"/>
<rect x="377.3" y="253.18" width="13.06" height="69.52" fill="#6c7a9d"/>
<rect x="377.3" y="235.8" width="13.06" height="17.38" fill="#84b7d7"/>
<rect x="390.36" y="314.01" width="13.06" height="8.69" fill="#6c7a9d"/>
<rect x="390.36" y="287.94" width="13.06" height="26.07" fill="#84b7d7"/>
<rect x="403.42" y="314.01" width="13.06" height="8.69" fill="#84b7d7"/>
<rect x="312" y="296.63" width="13.06" height="26.07" fill="none" stroke="#000" stroke-opacity="0.12" stroke-width="0.5"/>
<rect x="312" y="314.01" width="13.06" height="8.69" fill="none" stroke="#000" stroke-opacity="0.12" stroke-width="0.5"/>
<rect x="325.06" y="279.25" width="13.06" height="43.45" fill="none" stroke="#000" stroke-opacity="0.12" stroke-width="0.5"/>
<rect x="338.12" y="287.94" width="13.06" height="34.76" fill="none" stroke="#000" stroke-opacity="0.12" stroke-width="0.5"/>
<rect x="338.12" y="305.32" width="13.06" height="17.38" fill="none" stroke="#000" stroke-opacity="0.12" stroke-width="0.5"/>
<rect x="351.18" y="209.73" width="13.06" height="112.97" fill="none" stroke="#000" stroke-opacity="0.12" stroke-width="0.5"/>
<rect x="351.18" y="261.87" width="13.06" height="60.83" fill="none" stroke="#000" stroke-opacity="0.12" stroke-width="0.5"/>
<rect x="364.24" y="218.42" width="13.06" height="104.28" fill="none" stroke="#000" stroke-opacity="0.12" stroke-width="0.5"/>
<rect x="364.24" y="261.87" width="13.06" height="60.83" fill="none" stroke="#000" stroke-opacity="0.12" stroke-width="0.5"/>
<rect x="377.3" y="235.8" width="13.06" height="86.9" fill="none" stroke="#000" stroke-opacity="0.12" stroke-width="0.5"/>
<rect x="377.3" y="253.18" width="13.06" height="69.52" fill="none" stroke="#000" stroke-opacity="0.12" stroke-width="0.5"/>
<rect x="390.36" y="287.94" width="13.06" height="34.76" fill="none" stroke="#000" stroke-opacity="0.12" stroke-width="0.5"/>
<rect x="390.36" y="314.01" width="13.06" height="8.69" fill="none" stroke="#000" stroke-opacity="0.12" stroke-width="0.5"/>
<rect x="403.42" y="314.01" width="13.06" height="8.69" fill="none" stroke="#000" stroke-opacity="0.12" stroke-width="0.5"/>
<path d="M312,318.23 313,317.99 314.01,317.78 315.01,317.6 316.02,317.45 317.02,317.34 318.03,317.27 319.03,317.23 320.04,317.23 321.04,317.26 322.05,317.32 323.05,317.39 324.06,317.47 325.06,317.54 326.06,317.59 327.07,317.59 328.07,317.52 329.08,317.36 330.08,317.08 331.09,316.67 332.09,316.1 333.1,315.35 334.1,314.42 335.11,313.3 336.11,311.99 337.12,310.51 338.12,308.87 339.12,307.09 340.13,305.2 341.13,303.23 342.14,301.21 343.14,299.16 344.15,297.12 345.15,295.09 346.16,293.1 347.16,291.15 348.17,289.24 349.17,287.37 350.18,285.54 351.18,283.75 352.18,282 353.19,280.3 354.19,278.65 355.2,277.07 356.2,275.58 357.21,274.18 358.21,272.9 359.22,271.75 360.22,270.74 361.23,269.86 362.23,269.11 363.24,268.48 364.24,267.93 365.24,267.44 366.25,266.98 367.25,266.51 368.26,266 369.26,265.44 370.27,264.81 371.27,264.1 372.28,263.33 373.28,262.53 374.29,261.75 375.29,261.03 376.3,260.44 377.3,260.05 378.3,259.92 379.31,260.12 380.31,260.69 381.32,261.66 382.32,263.05 383.33,264.84 384.33,267.01 385.34,269.5 386.34,272.25 387.35,275.2 388.35,278.27 389.36,281.38 390.36,284.48 391.36,287.5 392.37,290.41 393.37,293.18 394.38,295.79 395.38,298.25 396.39,300.54 397.39,302.69 398.4,304.7 399.4,306.58 400.41,308.34 401.41,309.98 402.42,311.51 403.42,312.92 404.42,314.21 405.43,315.39 406.43,316.44 407.44,317.38 408.44,318.19 409.45,318.89 410.45,319.49 411.46,319.98 412.46,320.39 413.47,320.72 414.47,320.99 415.48,321.2 416.48,321.38" fill="none" stroke="#b93c46" stroke-width="1.1" stroke-linejoin="round"/>
<path d="M312,306.32 313,305.26 314.01,304.24 315.01,303.28 316.02,302.35 317.02,301.47 318.03,300.63 319.03,299.82 320.04,299.02 321.04,298.23 322.05,297.43 323.05,296.62 324.06,295.8 325.06,294.94 326.06,294.05 327.07,293.12 328.07,292.16 329.08,291.15 330.08,290.1 331.09,289 332.09,287.85 333.1,286.63 334.1,285.34 335.11,283.98 336.11,282.53 337.12,280.98 338.12,279.33 339.12,277.56 340.13,275.67 341.13,273.67 342.14,271.55 343.14,269.31 344.15,266.96 345.15,264.52 346.16,261.99 347.16,259.39 348.17,256.73 349.17,254.05 350.18,251.37 351.18,248.72 352.18,246.14 353.19,243.64 354.19,241.28 355.2,239.09 356.2,237.09 357.21,235.32 358.21,233.78 359.22,232.5 360.22,231.46 361.23,230.66 362.23,230.09 363.24,229.71 364.24,229.51 365.24,229.45 366.25,229.49 367.25,229.63 368.26,229.83 369.26,230.09 370.27,230.4 371.27,230.76 372.28,231.18 373.28,231.67 374.29,232.24 375.29,232.91 376.3,233.67 377.3,234.54 378.3,235.52 379.31,236.62 380.31,237.83 381.32,239.15 382.32,240.58 383.33,242.13 384.33,243.8 385.34,245.59 386.34,247.52 387.35,249.59 388.35,251.81 389.36,254.19 390.36,256.72 391.36,259.39 392.37,262.21 393.37,265.14 394.38,268.16 395.38,271.25 396.39,274.36 397.39,277.47 398.4,280.54 399.4,283.54 400.41,286.44 401.41,289.23 402.42,291.88 403.42,294.38 404.42,296.73 405.43,298.93 406.43,300.97 407.44,302.87 408.44,304.62 409.45,306.24 410.45,307.74 411.46,309.12 412.46,310.4 413.47,311.57 414.47,312.66 415.48,313.65 416.48,314.57" fill="none" stroke="#2079b9" stroke-width="1.1" stroke-linejoin="round"/>
<path d="M314.92,322.7v-3.11M344.59,322.7v-3.11M345.13,322.7v-3.11M352.93,322.7v-3.11M363.12,322.7v-3.11M359.45,322.7v-3.11M362.84,322.7v-3.11M357.21,322.7v-3.11M360.94,322.7v-3.11M357.61,322.7v-3.11M371.8,322.7v-3.11M375.16,322.7v-3.11M372.89,322.7v-3.11M367.5,322.7v-3.11M375.83,322.7v-3.11M372.87,322.7v-3.11M370.4,322.7v-3.11M378.07,322.7v-3.11M384.44,322.7v-3.11M382.81,322.7v-3.11M388.1,322.7v-3.11M378.56,322.7v-3.11M385.72,322.7v-3.11M385.13,322.7v-3.11M382.79,322.7v-3.11M401.61,322.7v-3.11" stroke="#d62728" stroke-width="0.9" fill="none"/>
<path d="M320.15,322.7v-3.11M314.67,322.7v-3.11M315.85,322.7v-3.11M331.86,322.7v-3.11M337.26,322.7v-3.11M326,322.7v-3.11M327.11,322.7v-3.11M334.63,322.7v-3.11M347.22,322.7v-3.11M340.35,322.7v-3.11M340.66,322.7v-3.11M344.38,322.7v-3.11M352.57,322.7v-3.11M362.35,322.7v-3.11M362.65,322.7v-3.11M358.19,322.7v-3.11M352.81,322.7v-3.11M360.61,322.7v-3.11M363.57,322.7v-3.11M357.45,322.7v-3.11M359.41,322.7v-3.11M358.69,322.7v-3.11M359.91,322.7v-3.11M353.13,322.7v-3.11M352.27,322.7v-3.11M369.25,322.7v-3.11M365.85,322.7v-3.11M375.15,322.7v-3.11M368.56,322.7v-3.11M373.63,322.7v-3.11M370.07,322.7v-3.11M367.19,322.7v-3.11M371.5,322.7v-3.11M373.67,322.7v-3.11M368.62,322.7v-3.11M370.71,322.7v-3.11M367.59,322.7v-3.11M385.93,322.7v-3.11M378.88,322.7v-3.11M378.18,322.7v-3.11M383.67,322.7v-3.11M380.18,322.7v-3.11M380.53,322.7v-3.11M386.79,322.7v-3.11M382.88,322.7v-3.11M380.9,322.7v-3.11M381.19,322.7v-3.11M391.03,322.7v-3.11M391.88,322.7v-3.11M394.53,322.7v-3.11M400.71,322.7v-3.11M413.18,322.7v-3.11" stroke="#1f77b4" stroke-width="0.9" fill="none"/>
<path d="M306.5,198.43V322.5H421.7" fill="none" stroke="#666666" stroke-width="0.9"/>
<path d="M305.49,322.7H306.7" stroke="#666666" stroke-width="0.8"/>
<text x="291.49" y="325.82" font-size="8.91" textLength="12.22" lengthAdjust="spacingAndGlyphs">0.0</text>
<path d="M305.49,300.97H306.7" stroke="#666666" stroke-width="0.8"/>
<text x="291.65" y="304.09" font-size="8.91" textLength="12.06" lengthAdjust="spacingAndGlyphs">2.5</text>
<path d="M305.49,279.25H306.7" stroke="#666666" stroke-width="0.8"/>
<text x="291.57" y="282.37" font-size="8.91" textLength="12.14" lengthAdjust="spacingAndGlyphs">5.0</text>
<path d="M305.49,257.52H306.7" stroke="#666666" stroke-width="0.8"/>
<text x="291.69" y="260.64" font-size="8.91" textLength="12.02" lengthAdjust="spacingAndGlyphs">7.5</text>
<path d="M305.49,235.8H306.7" stroke="#666666" stroke-width="0.8"/>
<text x="286.53" y="238.92" font-size="8.91" textLength="17.2" lengthAdjust="spacingAndGlyphs">10.0</text>
<path d="M305.49,214.07H306.7" stroke="#666666" stroke-width="0.8"/>
<text x="286.69" y="217.19" font-size="8.91" textLength="17.03" lengthAdjust="spacingAndGlyphs">12.5</text>
<path d="M309.2,322.7V323.91" stroke="#666666" stroke-width="0.8"/>
<text x="304.34" y="332.32" font-size="8.91" textLength="9.72" lengthAdjust="spacingAndGlyphs">20</text>
<path d="M346.6,322.7V323.91" stroke="#666666" stroke-width="0.8"/>
<text x="341.76" y="332.32" font-size="8.91" textLength="9.7" lengthAdjust="spacingAndGlyphs">40</text>
<path d="M384,322.7V323.91" stroke="#666666" stroke-width="0.8"/>
<text x="379.09" y="332.32" font-size="8.91" textLength="9.76" lengthAdjust="spacingAndGlyphs">60</text>
<path d="M421.2,322.7V323.91" stroke="#666666" stroke-width="0.8"/>
<text x="416.34" y="332.32" font-size="8.91" textLength="9.72" lengthAdjust="spacingAndGlyphs">80</text>
<text x="306.26" y="342.1" font-size="8.91" textLength="115.87" lengthAdjust="spacingAndGlyphs">Interday Standard Deviation</text>
<text transform="translate(281.7,0) rotate(-90)" x="-272.83" y="0" font-size="8.91" textLength="23.11" lengthAdjust="spacingAndGlyphs">Count</text>
<text x="409.74" y="225.5" font-size="8.91" textLength="28.03" lengthAdjust="spacingAndGlyphs">gender</text>
<rect x="397.8" y="232.2" width="16" height="5.6" fill="#7ab2d8"/>
<rect x="397.8" y="244.2" width="16" height="5.6" fill="#d88b91"/>
<text x="421.42" y="237.8" font-size="8.91" textLength="18.49" lengthAdjust="spacingAndGlyphs">Male</text>
<text x="421.41" y="249.9" font-size="8.91" textLength="28.57" lengthAdjust="spacingAndGlyphs">Female</text>
<text x="357.53" y="361.55" font-size="10.4" textLength="10.43" lengthAdjust="spacingAndGlyphs" style="font-family:'Liberation Serif',serif;font-weight:bold;stroke:none;">(f)</text></g>
<g><rect x="42" y="495.26" width="13" height="8.04" fill="#84b7d7"/>
<rect x="55" y="495.26" width="13" height="8.04" fill="#6c7a9d"/>
<rect x="55" y="487.22" width="13" height="8.04" fill="#84b7d7"/>
<rect x="68" y="471.14" width="13" height="32.16" fill="#6c7a9d"/>
<rect x="68" y="438.98" width="13" height="32.16" fill="#84b7d7"/>
<rect x="81" y="447.02" width="13" height="56.28" fill="#6c7a9d"/>
<rect x="94" y="430.94" width="13" height="72.36" fill="#6c7a9d"/>
<rect x="94" y="382.7" width="13" height="48.24" fill="#84b7d7"/>
<rect x="107" y="471.14" width="13" height="32.16" fill="#6c7a9d"/>
<rect x="107" y="406.82" width="13" height="64.32" fill="#84b7d7"/>
<rect x="120" y="487.22" width="13" height="16.08" fill="#84b7d7"/>
<rect x="133" y="495.26" width="13" height="8.04" fill="#6c7a9d"/>
<rect x="133" y="463.1" width="13" height="32.16" fill="#84b7d7"/>
<rect x="42" y="495.26" width="13" height="8.04" fill="none" stroke="#000" stroke-opacity="0.12" stroke-width="0.5"/>
<rect x="55" y="487.22" width="13" height="16.08" fill="none" stroke="#000" stroke-opacity="0.12" stroke-width="0.5"/>
<rect x="55" y="495.26" width="13" height="8.04" fill="none" stroke="#000" stroke-opacity="0.12" stroke-width="0.5"/>
<rect x="68" y="438.98" width="13" height="64.32" fill="none" stroke="#000" stroke-opacity="0.12" stroke-width="0.5"/>
<rect x="68" y="471.14" width="13" height="32.16" fill="none" stroke="#000" stroke-opacity="0.12" stroke-width="0.5"/>
<rect x="81" y="447.02" width="13" height="56.28" fill="none" stroke="#000" stroke-opacity="0.12" stroke-width="0.5"/>
<rect x="81" y="447.02" width="13" height="56.28" fill="none" stroke="#000" stroke-opacity="0.12" stroke-width="0.5"/>
<rect x="94" y="382.7" width="13" height="120.6" fill="none" stroke="#000" stroke-opacity="0.12" stroke-width="0.5"/>
<rect x="94" y="430.94" width="13" height="72.36" fill="none" stroke="#000" stroke-opacity="0.12" stroke-width="0.5"/>
<rect x="107" y="406.82" width="13" height="96.48" fill="none" stroke="#000" stroke-opacity="0.12" stroke-width="0.5"/>
<rect x="107" y="471.14" width="13" height="32.16" fill="none" stroke="#000" stroke-opacity="0.12" stroke-width="0.5"/>
<rect x="120" y="487.22" width="13" height="16.08" fill="none" stroke="#000" stroke-opacity="0.12" stroke-width="0.5"/>
<rect x="133" y="463.1" width="13" height="40.2" fill="none" stroke="#000" stroke-opacity="0.12" stroke-width="0.5"/>
<rect x="133" y="495.26" width="13" height="8.04" fill="none" stroke="#000" stroke-opacity="0.12" stroke-width="0.5"/>
<path d="M42,502.98 43,502.89 44,502.78 45,502.64 46,502.47 47,502.26 48,502.01 49,501.71 50,501.34 51,500.91 52,500.39 53,499.78 54,499.08 55,498.27 56,497.35 57,496.31 58,495.16 59,493.91 60,492.56 61,491.13 62,489.64 63,488.11 64,486.56 65,485.02 66,483.51 67,482.04 68,480.63 69,479.29 70,478.01 71,476.78 72,475.6 73,474.45 74,473.31 75,472.17 76,470.99 77,469.78 78,468.53 79,467.21 80,465.84 81,464.42 82,462.93 83,461.4 84,459.81 85,458.19 86,456.53 87,454.85 88,453.18 89,451.52 90,449.93 91,448.43 92,447.06 93,445.87 94,444.9 95,444.19 96,443.75 97,443.61 98,443.76 99,444.2 100,444.91 101,445.85 102,447 103,448.31 104,449.76 105,451.31 106,452.95 107,454.64 108,456.39 109,458.18 110,460.02 111,461.89 112,463.8 113,465.75 114,467.73 115,469.75 116,471.79 117,473.85 118,475.92 119,477.97 120,480.01 121,482.01 122,483.94 123,485.8 124,487.56 125,489.2 126,490.7 127,492.06 128,493.26 129,494.29 130,495.17 131,495.89 132,496.46 133,496.92 134,497.26 135,497.53 136,497.73 137,497.89 138,498.03 139,498.17 140,498.32 141,498.5 142,498.7 143,498.92 144,499.18 145,499.46 146,499.76" fill="none" stroke="#b93c46" stroke-width="1.1" stroke-linejoin="round"/>
<path d="M42,498.87 43,498.52 44,498.14 45,497.72 46,497.27 47,496.76 48,496.18 49,495.54 50,494.82 51,494.01 52,493.11 53,492.11 54,491 55,489.79 56,488.46 57,487.03 58,485.49 59,483.84 60,482.09 61,480.25 62,478.32 63,476.32 64,474.25 65,472.12 66,469.95 67,467.75 68,465.51 69,463.25 70,460.98 71,458.68 72,456.37 73,454.04 74,451.7 75,449.34 76,446.98 77,444.61 78,442.26 79,439.92 80,437.61 81,435.34 82,433.12 83,430.96 84,428.86 85,426.83 86,424.86 87,422.96 88,421.13 89,419.36 90,417.67 91,416.06 92,414.55 93,413.15 94,411.89 95,410.78 96,409.85 97,409.13 98,408.61 99,408.32 100,408.24 101,408.39 102,408.73 103,409.27 104,409.98 105,410.86 106,411.89 107,413.07 108,414.41 109,415.91 110,417.59 111,419.46 112,421.53 113,423.81 114,426.31 115,429 116,431.87 117,434.89 118,438.03 119,441.22 120,444.43 121,447.6 122,450.68 123,453.63 124,456.41 125,458.99 126,461.36 127,463.5 128,465.42 129,467.13 130,468.64 131,469.98 132,471.15 133,472.19 134,473.13 135,473.99 136,474.8 137,475.59 138,476.37 139,477.18 140,478.03 141,478.94 142,479.92 143,480.98 144,482.12 145,483.34 146,484.64" fill="none" stroke="#2079b9" stroke-width="1.1" stroke-linejoin="round"/>
<path d="M57.81,503.3v-3.32M76.79,503.3v-3.32M71.02,503.3v-3.32M74.47,503.3v-3.32M70.62,503.3v-3.32M86.39,503.3v-3.32M85.48,503.3v-3.32M83.07,503.3v-3.32M88.45,503.3v-3.32M89.55,503.3v-3.32M90.7,503.3v-3.32M89.9,503.3v-3.32M95.82,503.3v-3.32M105.45,503.3v-3.32M97.76,503.3v-3.32M102.09,503.3v-3.32M102.22,503.3v-3.32M95.93,503.3v-3.32M101.94,503.3v-3.32M104.19,503.3v-3.32M103.71,503.3v-3.32M109.3,503.3v-3.32M111.02,503.3v-3.32M117.44,503.3v-3.32M116.59,503.3v-3.32M136.66,503.3v-3.32" stroke="#d62728" stroke-width="0.9" fill="none"/>
<path d="M44.76,503.3v-3.32M55.88,503.3v-3.32M61.07,503.3v-3.32M77.13,503.3v-3.32M73.57,503.3v-3.32M74.33,503.3v-3.32M68.8,503.3v-3.32M74.35,503.3v-3.32M79.67,503.3v-3.32M78.6,503.3v-3.32M77.19,503.3v-3.32M82.92,503.3v-3.32M92.11,503.3v-3.32M91.68,503.3v-3.32M83.58,503.3v-3.32M89.05,503.3v-3.32M81.89,503.3v-3.32M83.02,503.3v-3.32M98.35,503.3v-3.32M96.5,503.3v-3.32M103.53,503.3v-3.32M104.22,503.3v-3.32M98.68,503.3v-3.32M98.38,503.3v-3.32M95.96,503.3v-3.32M95.63,503.3v-3.32M102.99,503.3v-3.32M101.66,503.3v-3.32M95.3,503.3v-3.32M100.26,503.3v-3.32M99.35,503.3v-3.32M104.57,503.3v-3.32M103.05,503.3v-3.32M114.69,503.3v-3.32M114.11,503.3v-3.32M118.75,503.3v-3.32M119.19,503.3v-3.32M111.61,503.3v-3.32M110.46,503.3v-3.32M116.97,503.3v-3.32M108.4,503.3v-3.32M111.92,503.3v-3.32M108.47,503.3v-3.32M111.39,503.3v-3.32M108.47,503.3v-3.32M124.05,503.3v-3.32M129.89,503.3v-3.32M144.24,503.3v-3.32M142.92,503.3v-3.32M140.22,503.3v-3.32M140.86,503.3v-3.32M137.88,503.3v-3.32" stroke="#1f77b4" stroke-width="0.9" fill="none"/>
<path d="M36.5,370.64V503.5H151.2" fill="none" stroke="#666666" stroke-width="0.9"/>
<path d="M35.41,503.3H36.7" stroke="#666666" stroke-width="0.8"/>
<text x="20.38" y="506.63" font-size="9.57" textLength="13.12" lengthAdjust="spacingAndGlyphs">0.0</text>
<path d="M35.41,483.2H36.7" stroke="#666666" stroke-width="0.8"/>
<text x="20.54" y="486.53" font-size="9.57" textLength="12.95" lengthAdjust="spacingAndGlyphs">2.5</text>
<path d="M35.41,463.1H36.7" stroke="#666666" stroke-width="0.8"/>
<text x="20.46" y="466.43" font-size="9.57" textLength="13.03" lengthAdjust="spacingAndGlyphs">5.0</text>
<path d="M35.41,443H36.7" stroke="#666666" stroke-width="0.8"/>
<text x="20.59" y="446.33" font-size="9.57" textLength="12.9" lengthAdjust="spacingAndGlyphs">7.5</text>
<path d="M35.41,422.9H36.7" stroke="#666666" stroke-width="0.8"/>
<text x="15.05" y="426.23" font-size="9.57" textLength="18.46" lengthAdjust="spacingAndGlyphs">10.0</text>
<path d="M35.41,402.8H36.7" stroke="#666666" stroke-width="0.8"/>
<text x="15.22" y="406.13" font-size="9.57" textLength="18.28" lengthAdjust="spacingAndGlyphs">12.5</text>
<path d="M35.41,382.7H36.7" stroke="#666666" stroke-width="0.8"/>
<text x="15.05" y="386.03" font-size="9.57" textLength="18.46" lengthAdjust="spacingAndGlyphs">15.0</text>
<path d="M63.7,503.3V504.59" stroke="#666666" stroke-width="0.8"/>
<text x="58.44" y="513.93" font-size="9.57" textLength="10.48" lengthAdjust="spacingAndGlyphs">60</text>
<path d="M106.6,503.3V504.59" stroke="#666666" stroke-width="0.8"/>
<text x="101.38" y="513.93" font-size="9.57" textLength="10.43" lengthAdjust="spacingAndGlyphs">80</text>
<path d="M149.2,503.3V504.59" stroke="#666666" stroke-width="0.8"/>
<text x="141.34" y="513.93" font-size="9.57" textLength="15.81" lengthAdjust="spacingAndGlyphs">100</text>
<text x="18.83" y="524.4" font-size="9.57" textLength="149.47" lengthAdjust="spacingAndGlyphs">Percentage of Time in Range (TIR)</text>
<text transform="translate(9.2,0) rotate(-90)" x="-450.67" y="0" font-size="9.57" textLength="24.95" lengthAdjust="spacingAndGlyphs">Count</text>
<text x="137.01" y="399" font-size="9.57" textLength="30.58" lengthAdjust="spacingAndGlyphs">gender</text>
<rect x="124.2" y="405.8" width="17.9" height="5.9" fill="#7ab2d8"/>
<rect x="124.2" y="419.2" width="17.9" height="5.9" fill="#d88b91"/>
<text x="149.15" y="411.6" font-size="9.57" textLength="20.29" lengthAdjust="spacingAndGlyphs">Male</text>
<text x="149.15" y="425.1" font-size="9.57" textLength="31.27" lengthAdjust="spacingAndGlyphs">Female</text>
<text x="84.72" y="544.7" font-size="10.4" textLength="12.42" lengthAdjust="spacingAndGlyphs" style="font-family:'Liberation Serif',serif;font-weight:bold;stroke:none;">(g)</text></g>
<g><rect x="305" y="492.77" width="11.43" height="10.53" fill="#84b7d7"/>
<rect x="316.43" y="461.18" width="11.43" height="42.12" fill="#84b7d7"/>
<rect x="327.86" y="482.24" width="11.43" height="21.06" fill="#6c7a9d"/>
<rect x="327.86" y="461.18" width="11.43" height="21.06" fill="#db8d90"/>
<rect x="339.29" y="492.77" width="11.43" height="10.53" fill="#6c7a9d"/>
<rect x="339.29" y="429.59" width="11.43" height="63.18" fill="#84b7d7"/>
<rect x="350.72" y="461.18" width="11.43" height="42.12" fill="#6c7a9d"/>
<rect x="350.72" y="398" width="11.43" height="63.18" fill="#84b7d7"/>
<rect x="362.15" y="429.59" width="11.43" height="73.71" fill="#6c7a9d"/>
<rect x="362.15" y="387.47" width="11.43" height="42.12" fill="#84b7d7"/>
<rect x="373.58" y="450.65" width="11.43" height="52.65" fill="#6c7a9d"/>
<rect x="373.58" y="419.06" width="11.43" height="31.59" fill="#84b7d7"/>
<rect x="385.01" y="471.71" width="11.43" height="31.59" fill="#6c7a9d"/>
<rect x="385.01" y="429.59" width="11.43" height="42.12" fill="#84b7d7"/>
<rect x="396.44" y="482.24" width="11.43" height="21.06" fill="#db8d90"/>
<rect x="407.87" y="482.24" width="11.43" height="21.06" fill="#84b7d7"/>
<rect x="305" y="492.77" width="11.43" height="10.53" fill="none" stroke="#000" stroke-opacity="0.12" stroke-width="0.5"/>
<rect x="316.43" y="461.18" width="11.43" height="42.12" fill="none" stroke="#000" stroke-opacity="0.12" stroke-width="0.5"/>
<rect x="327.86" y="482.24" width="11.43" height="21.06" fill="none" stroke="#000" stroke-opacity="0.12" stroke-width="0.5"/>
<rect x="327.86" y="461.18" width="11.43" height="42.12" fill="none" stroke="#000" stroke-opacity="0.12" stroke-width="0.5"/>
<rect x="339.29" y="429.59" width="11.43" height="73.71" fill="none" stroke="#000" stroke-opacity="0.12" stroke-width="0.5"/>
<rect x="339.29" y="492.77" width="11.43" height="10.53" fill="none" stroke="#000" stroke-opacity="0.12" stroke-width="0.5"/>
<rect x="350.72" y="398" width="11.43" height="105.3" fill="none" stroke="#000" stroke-opacity="0.12" stroke-width="0.5"/>
<rect x="350.72" y="461.18" width="11.43" height="42.12" fill="none" stroke="#000" stroke-opacity="0.12" stroke-width="0.5"/>
<rect x="362.15" y="387.47" width="11.43" height="115.83" fill="none" stroke="#000" stroke-opacity="0.12" stroke-width="0.5"/>
<rect x="362.15" y="429.59" width="11.43" height="73.71" fill="none" stroke="#000" stroke-opacity="0.12" stroke-width="0.5"/>
<rect x="373.58" y="419.06" width="11.43" height="84.24" fill="none" stroke="#000" stroke-opacity="0.12" stroke-width="0.5"/>
<rect x="373.58" y="450.65" width="11.43" height="52.65" fill="none" stroke="#000" stroke-opacity="0.12" stroke-width="0.5"/>
<rect x="385.01" y="429.59" width="11.43" height="73.71" fill="none" stroke="#000" stroke-opacity="0.12" stroke-width="0.5"/>
<rect x="385.01" y="471.71" width="11.43" height="31.59" fill="none" stroke="#000" stroke-opacity="0.12" stroke-width="0.5"/>
<rect x="396.44" y="482.24" width="11.43" height="21.06" fill="none" stroke="#000" stroke-opacity="0.12" stroke-width="0.5"/>
<rect x="407.87" y="482.24" width="11.43" height="21.06" fill="none" stroke="#000" stroke-opacity="0.12" stroke-width="0.5"/>
<path d="M305,502.83 306,502.69 307.01,502.51 308.01,502.29 309.01,502.02 310.01,501.7 311.02,501.32 312.02,500.87 313.02,500.35 314.02,499.75 315.03,499.07 316.03,498.3 317.03,497.45 318.03,496.52 319.04,495.51 320.04,494.44 321.04,493.31 322.04,492.13 323.05,490.93 324.05,489.71 325.05,488.5 326.06,487.31 327.06,486.17 328.06,485.07 329.06,484.06 330.07,483.12 331.07,482.28 332.07,481.53 333.07,480.88 334.08,480.33 335.08,479.87 336.08,479.48 337.08,479.16 338.09,478.89 339.09,478.65 340.09,478.42 341.09,478.18 342.1,477.91 343.1,477.59 344.1,477.19 345.11,476.7 346.11,476.1 347.11,475.38 348.11,474.53 349.12,473.54 350.12,472.42 351.12,471.16 352.12,469.77 353.13,468.26 354.13,466.65 355.13,464.96 356.13,463.21 357.14,461.42 358.14,459.62 359.14,457.83 360.14,456.08 361.15,454.4 362.15,452.81 363.15,451.33 364.16,450 365.16,448.83 366.16,447.84 367.16,447.04 368.17,446.45 369.17,446.09 370.17,445.95 371.17,446.04 372.18,446.35 373.18,446.89 374.18,447.62 375.18,448.55 376.19,449.63 377.19,450.84 378.19,452.16 379.19,453.55 380.2,454.97 381.2,456.41 382.2,457.83 383.21,459.2 384.21,460.53 385.21,461.79 386.21,462.99 387.22,464.12 388.22,465.2 389.22,466.24 390.22,467.26 391.23,468.27 392.23,469.29 393.23,470.33 394.23,471.41 395.24,472.53 396.24,473.7 397.24,474.93 398.24,476.21 399.25,477.53 400.25,478.9 401.25,480.29 402.26,481.69 403.26,483.11 404.26,484.51 405.26,485.9 406.27,487.25 407.27,488.57 408.27,489.83 409.27,491.04 410.28,492.19 411.28,493.27 412.28,494.28 413.28,495.22 414.29,496.09 415.29,496.88 416.29,497.61 417.29,498.26 418.3,498.86 419.3,499.39" fill="none" stroke="#b93c46" stroke-width="1.1" stroke-linejoin="round"/>
<path d="M305,495.35 306,494.68 307.01,493.98 308.01,493.25 309.01,492.47 310.01,491.66 311.02,490.8 312.02,489.9 313.02,488.96 314.02,487.97 315.03,486.92 316.03,485.82 317.03,484.66 318.03,483.44 319.04,482.15 320.04,480.79 321.04,479.35 322.04,477.82 323.05,476.21 324.05,474.52 325.05,472.74 326.06,470.89 327.06,468.97 328.06,467 329.06,464.99 330.07,462.96 331.07,460.91 332.07,458.88 333.07,456.85 334.08,454.84 335.08,452.86 336.08,450.88 337.08,448.91 338.09,446.93 339.09,444.91 340.09,442.84 341.09,440.7 342.1,438.48 343.1,436.17 344.1,433.77 345.11,431.28 346.11,428.73 347.11,426.14 348.11,423.52 349.12,420.93 350.12,418.39 351.12,415.92 352.12,413.57 353.13,411.35 354.13,409.28 355.13,407.36 356.13,405.61 357.14,404.01 358.14,402.56 359.14,401.25 360.14,400.08 361.15,399.04 362.15,398.13 363.15,397.36 364.16,396.73 365.16,396.25 366.16,395.94 367.16,395.82 368.17,395.88 369.17,396.15 370.17,396.63 371.17,397.34 372.18,398.26 373.18,399.4 374.18,400.77 375.18,402.35 376.19,404.15 377.19,406.17 378.19,408.41 379.19,410.88 380.2,413.57 381.2,416.49 382.2,419.64 383.21,423 384.21,426.57 385.21,430.32 386.21,434.22 387.22,438.23 388.22,442.32 389.22,446.41 390.22,450.47 391.23,454.44 392.23,458.27 393.23,461.92 394.23,465.34 395.24,468.5 396.24,471.4 397.24,474.01 398.24,476.35 399.25,478.41 400.25,480.22 401.25,481.81 402.26,483.19 403.26,484.4 404.26,485.46 405.26,486.4 406.27,487.24 407.27,488.01 408.27,488.71 409.27,489.37 410.28,489.99 411.28,490.58 412.28,491.14 413.28,491.69 414.29,492.23 415.29,492.75 416.29,493.26 417.29,493.77 418.3,494.28 419.3,494.79" fill="none" stroke="#2079b9" stroke-width="1.1" stroke-linejoin="round"/>
<path d="M330.88,503.3v-3.19M328.77,503.3v-3.19M329.71,503.3v-3.19M330.19,503.3v-3.19M342.85,503.3v-3.19M359.76,503.3v-3.19M359.51,503.3v-3.19M352.39,503.3v-3.19M359.93,503.3v-3.19M368.86,503.3v-3.19M371.19,503.3v-3.19M368.99,503.3v-3.19M370.56,503.3v-3.19M362.77,503.3v-3.19M368.1,503.3v-3.19M363.52,503.3v-3.19M379.57,503.3v-3.19M381.66,503.3v-3.19M380.41,503.3v-3.19M379.56,503.3v-3.19M384.01,503.3v-3.19M388.8,503.3v-3.19M391.41,503.3v-3.19M385.91,503.3v-3.19M402.49,503.3v-3.19M397.75,503.3v-3.19" stroke="#d62728" stroke-width="0.9" fill="none"/>
<path d="M313.61,503.3v-3.19M323.01,503.3v-3.19M321.39,503.3v-3.19M320.25,503.3v-3.19M325.51,503.3v-3.19M337.73,503.3v-3.19M328.83,503.3v-3.19M349.28,503.3v-3.19M340.48,503.3v-3.19M341.72,503.3v-3.19M340.61,503.3v-3.19M344.58,503.3v-3.19M347.15,503.3v-3.19M344.83,503.3v-3.19M351.55,503.3v-3.19M351.98,503.3v-3.19M355.67,503.3v-3.19M353.55,503.3v-3.19M359.63,503.3v-3.19M352.73,503.3v-3.19M359.02,503.3v-3.19M354.16,503.3v-3.19M361.05,503.3v-3.19M360.4,503.3v-3.19M369,503.3v-3.19M370.74,503.3v-3.19M363.15,503.3v-3.19M370.81,503.3v-3.19M372.01,503.3v-3.19M367.18,503.3v-3.19M371.84,503.3v-3.19M368.36,503.3v-3.19M372.87,503.3v-3.19M368.54,503.3v-3.19M371.99,503.3v-3.19M379.95,503.3v-3.19M375.14,503.3v-3.19M380.5,503.3v-3.19M374.77,503.3v-3.19M380.12,503.3v-3.19M383.12,503.3v-3.19M382.38,503.3v-3.19M374.84,503.3v-3.19M386.2,503.3v-3.19M394.83,503.3v-3.19M392.2,503.3v-3.19M392.45,503.3v-3.19M386.61,503.3v-3.19M392.23,503.3v-3.19M386.02,503.3v-3.19M414.79,503.3v-3.19M411.14,503.3v-3.19" stroke="#1f77b4" stroke-width="0.9" fill="none"/>
<path d="M299.5,375.89V503.5H425.01" fill="none" stroke="#666666" stroke-width="0.9"/>
<path d="M297.94,503.3H299.2" stroke="#666666" stroke-width="0.8"/>
<text x="291.21" y="506.54" font-size="9.3" textLength="4.87" lengthAdjust="spacingAndGlyphs">0</text>
<path d="M297.94,482.24H299.2" stroke="#666666" stroke-width="0.8"/>
<text x="291.51" y="485.48" font-size="9.3" textLength="4.63" lengthAdjust="spacingAndGlyphs">2</text>
<path d="M297.94,461.18H299.2" stroke="#666666" stroke-width="0.8"/>
<text x="291.14" y="464.42" font-size="9.3" textLength="4.85" lengthAdjust="spacingAndGlyphs">4</text>
<path d="M297.94,440.12H299.2" stroke="#666666" stroke-width="0.8"/>
<text x="291.11" y="443.36" font-size="9.3" textLength="5.02" lengthAdjust="spacingAndGlyphs">6</text>
<path d="M297.94,419.06H299.2" stroke="#666666" stroke-width="0.8"/>
<text x="291.21" y="422.3" font-size="9.3" textLength="4.87" lengthAdjust="spacingAndGlyphs">8</text>
<path d="M297.94,398H299.2" stroke="#666666" stroke-width="0.8"/>
<text x="286.03" y="401.24" font-size="9.3" textLength="10.07" lengthAdjust="spacingAndGlyphs">10</text>
<path d="M297.94,376.94H299.2" stroke="#666666" stroke-width="0.8"/>
<text x="286.33" y="380.18" font-size="9.3" textLength="9.85" lengthAdjust="spacingAndGlyphs">12</text>
<path d="M336,503.3V504.56" stroke="#666666" stroke-width="0.8"/>
<text x="330.93" y="514.24" font-size="9.3" textLength="9.96" lengthAdjust="spacingAndGlyphs">25</text>
<path d="M376.8,503.3V504.56" stroke="#666666" stroke-width="0.8"/>
<text x="371.82" y="514.24" font-size="9.3" textLength="10.04" lengthAdjust="spacingAndGlyphs">30</text>
<path d="M418.1,503.3V504.56" stroke="#666666" stroke-width="0.8"/>
<text x="413.13" y="514.24" font-size="9.3" textLength="9.86" lengthAdjust="spacingAndGlyphs">35</text>
<text x="274.45" y="524.1" font-size="9.3" textLength="175.53" lengthAdjust="spacingAndGlyphs">Percentage of Time Outside Range (POR)</text>
<text transform="translate(280.8,0) rotate(-90)" x="-452.85" y="0" font-size="9.3" textLength="24.23" lengthAdjust="spacingAndGlyphs">Count</text>
<text x="405.71" y="389.8" font-size="9.3" textLength="30.27" lengthAdjust="spacingAndGlyphs">gender</text>
<rect x="393.4" y="396.6" width="17.2" height="5.6" fill="#7ab2d8"/>
<rect x="393.4" y="409.5" width="17.2" height="5.6" fill="#d88b91"/>
<text x="417.99" y="402.4" font-size="9.3" textLength="19.34" lengthAdjust="spacingAndGlyphs">Male</text>
<text x="417.99" y="415.6" font-size="9.3" textLength="29.5" lengthAdjust="spacingAndGlyphs">Female</text>
<text x="356.42" y="545.8" font-size="10.4" textLength="12.92" lengthAdjust="spacingAndGlyphs" style="font-family:'Liberation Serif',serif;font-weight:bold;stroke:none;">(h)</text></g>
</svg></body></html>
